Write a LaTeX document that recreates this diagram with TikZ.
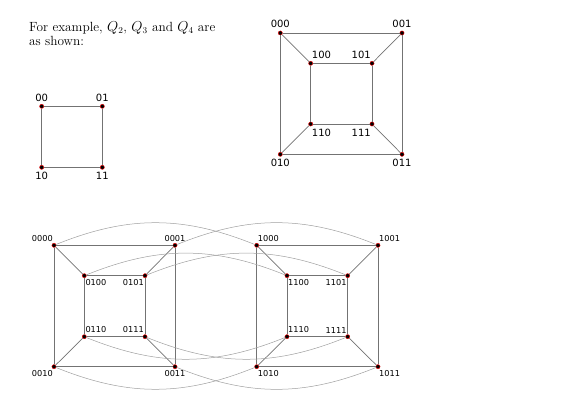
\documentclass[tikz,border=0pt]{standalone}
\usepackage{fontspec}
\newfontfamily\labelfont{DejaVu Sans}

\begin{document}
\begin{tikzpicture}[
    x=1pt, y=-1pt,
    vert/.style={circle, draw=red, fill=black, line width=0.4pt, minimum size=4.2pt, inner sep=0pt},
    link/.style={draw=gray!90!black, line width=0.7pt},
    cross/.style={draw=gray!75, line width=0.5pt},
    lab/.style={font=\labelfont\fontsize{10}{12}\selectfont, inner xsep=1pt, inner ysep=2.5pt},
    labsmall/.style={font=\labelfont\fontsize{8.2}{10}\selectfont, inner xsep=1pt, inner ysep=1.2pt},
    label distance=0pt
]

% Fix the page size
\useasboundingbox (0,0) rectangle (571,417);

% Intro text
\node[anchor=north west, align=left, inner sep=0pt, font=\fontsize{13.3}{14.5}\selectfont] (intro) at (29,21)
    {For example, $Q_2$, $Q_3$ and $Q_4$ are\\as shown:};

% ==================== Q2 ====================

\node[vert, label={[lab]above:00}] (a00) at (41.7,106.3) {};
\node[vert, label={[lab]above:01}] (a01) at (102.3,106.3) {};
\node[vert, label={[lab]below:10}] (a10) at (41.7,167.3) {};
\node[vert, label={[lab]below:11}] (a11) at (102.3,167.3) {};

\draw[link] (a00) -- (a01) -- (a11) -- (a10) -- (a00);

% ==================== Q3 ====================

% Outer square
\node[vert, label={[lab]above:000}] (b000) at (280.3,33) {};
\node[vert, label={[lab]above:001}] (b001) at (402,33) {};
\node[vert, label={[lab]below:010}] (b010) at (280.3,154.3) {};
\node[vert, label={[lab]below:011}] (b011) at (402,154.3) {};

% Inner square
\node[vert, label={[lab, anchor=south west]above:100}] (b100) at (310.7,63.3) {};
\node[vert, label={[lab, anchor=south east]above:101}] (b101) at (372,63.3) {};
\node[vert, label={[lab, anchor=north west]below:110}] (b110) at (310.7,124) {};
\node[vert, label={[lab, anchor=north east]below:111}] (b111) at (372,124) {};

\draw[link] (b000) -- (b001) -- (b011) -- (b010) -- (b000);
\draw[link] (b100) -- (b101) -- (b111) -- (b110) -- (b100);
\draw[link] (b000) -- (b100);
\draw[link] (b001) -- (b101);
\draw[link] (b010) -- (b110);
\draw[link] (b011) -- (b111);

% ==================== Q4 ====================

% Left cube (0xxx)
\node[vert, label={[labsmall, anchor=south east]above:0000}] (c0000) at (54,245.3) {};
\node[vert, label={[labsmall]above:0001}] (c0001) at (175,245.3) {};
\node[vert, label={[labsmall, anchor=north west]below:0100}] (c0100) at (84.3,275.7) {};
\node[vert, label={[labsmall, anchor=north east]below:0101}] (c0101) at (145,275.7) {};
\node[vert, label={[labsmall, anchor=south west]above:0110}] (c0110) at (84.3,336.7) {};
\node[vert, label={[labsmall, anchor=south east]above:0111}] (c0111) at (145,336.7) {};
\node[vert, label={[labsmall, anchor=north east]below:0010}] (c0010) at (54,366.7) {};
\node[vert, label={[labsmall]below:0011}] (c0011) at (175,366.7) {};

% Right cube (1xxx)
\node[vert, label={[labsmall, anchor=south west]above:1000}] (c1000) at (256.7,245.3) {};
\node[vert, label={[labsmall, anchor=south west]above:1001}] (c1001) at (378,245.3) {};
\node[vert, label={[labsmall, anchor=north west]below:1100}] (c1100) at (287,275.7) {};
\node[vert, label={[labsmall, anchor=north east]below:1101}] (c1101) at (347.7,275.7) {};
\node[vert, label={[labsmall, anchor=south west]above:1110}] (c1110) at (287,336.7) {};
\node[vert, label={[labsmall, anchor=south east]above:1111}] (c1111) at (347.7,336.7) {};
\node[vert, label={[labsmall, anchor=north west]below:1010}] (c1010) at (256.7,366.7) {};
\node[vert, label={[labsmall, anchor=north west]below:1011}] (c1011) at (378,366.7) {};

\foreach \p in {0,1} {
    \draw[link] (c\p000) -- (c\p001) -- (c\p011) -- (c\p010) -- (c\p000);
    \draw[link] (c\p100) -- (c\p101) -- (c\p111) -- (c\p110) -- (c\p100);
    \draw[link] (c\p000) -- (c\p100);
    \draw[link] (c\p001) -- (c\p101);
    \draw[link] (c\p010) -- (c\p110);
    \draw[link] (c\p011) -- (c\p111);
}

% Links between the two cubes
\foreach \s in {000,001,100,101} {
    \draw[cross] (c0\s) to[bend left=22] (c1\s);
}
\foreach \s in {010,011,110,111} {
    \draw[cross] (c0\s) to[bend right=22] (c1\s);
}

\end{tikzpicture}
\end{document}
